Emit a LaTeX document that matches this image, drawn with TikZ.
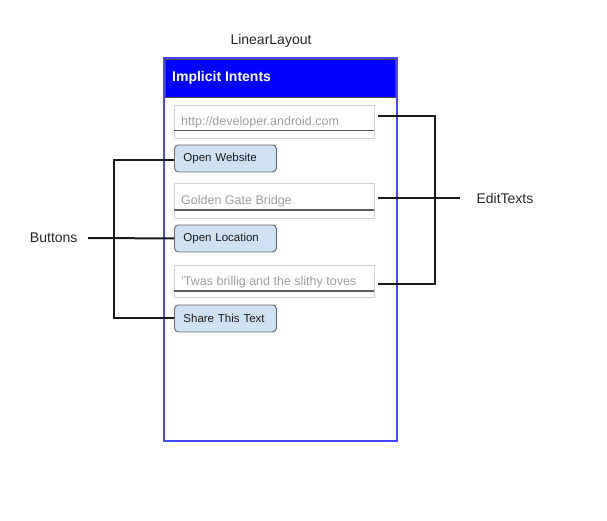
\documentclass[tikz,border=0pt]{standalone}
\usepackage{fontspec}
\setmainfont{Liberation Sans}
\begin{document}
\begin{tikzpicture}[x=1pt,y=-1pt,
  lbl/.style={font=\fontsize{14}{16}\selectfont, text=black!85},
  btn/.style={draw=black!60, line width=0.9pt, fill={rgb,255:red,207;green,226;blue,243}, rounded corners=4pt, minimum height=27pt, inner xsep=9pt, inner ysep=0pt, text width=84pt, align=left, font=\fontsize{11.5}{13}\selectfont, text=black!90},
  etbox/.style={draw=black!18, line width=0.8pt, minimum width=200pt, inner sep=0pt},
  hint/.style={font=\fontsize{12.5}{14}\selectfont, text=black!38, anchor=west, inner sep=0pt},
  conn/.style={draw=black!90, line width=2pt}]
\useasboundingbox (0,0) rectangle (607,520);
% frame
\node[draw={rgb,255:red,70;green,70;blue,255}, line width=1.5pt, minimum width=233pt, minimum height=383pt, inner sep=0pt, anchor=north west] (frame) at (163,57) {};
\node[fill={rgb,255:red,0;green,0;blue,255}, draw=black!70, line width=0.8pt, minimum width=230pt, minimum height=38pt, inner sep=0pt, anchor=north west] (bar) at (164.5,58.5) {};
\node[font=\bfseries\fontsize{14}{16}\selectfont, text=white, anchor=west, inner sep=0pt] (title) at (172,77.5) {Implicit Intents};
\node[lbl] (ll) at (271,41) {LinearLayout};
% edit texts
\node[etbox, minimum height=33pt, anchor=north west] (e1) at (174,105) {};
\draw[black!65, line width=1.3pt] (174,130.5) -- (374,130.5);
\node[hint] (h1) at (181,122) {http://developer.android.com};
\node[etbox, minimum height=35pt, anchor=north west] (e2) at (174,183) {};
\draw[black!65, line width=1.3pt] (174,210) -- (374,210);
\node[hint] (h2) at (181,201) {Golden Gate Bridge};
\node[etbox, minimum height=32pt, anchor=north west] (e3) at (174,265) {};
\draw[black!65, line width=1.3pt] (174,291) -- (374,291);
\node[hint] (h3) at (181,282) {'Twas brillig and the slithy toves};
% buttons
\node[btn, anchor=north west] (b1) at (174,144.5) {Open Website};
\node[btn, anchor=north west] (b2) at (174,224.5) {Open Location};
\node[btn, anchor=north west] (b3) at (174,304.5) {Share This Text};
% labels
\node[lbl, anchor=east] (buttons) at (81,238) {Buttons};
\node[lbl, anchor=west] (edittexts) at (473,198) {EditTexts};
% connectors
\coordinate (lv1) at (114,160);
\coordinate (lv3) at (114,318);
\draw[conn] (b1.west |- lv1) -- (lv1) -- (lv3) -- (b3.west |- lv3);
\draw[conn] (88,238) coordinate (bl) -- (b2.west);
\coordinate (rv1) at (435,116);
\coordinate (rv3) at (435,284);
\draw[conn] (378,116) coordinate (r1) -- (rv1) -- (rv3) -- (378,284) coordinate (r3);
\draw[conn] (378,198) coordinate (r2) -- (460,198) coordinate (re);
\end{tikzpicture}
\end{document}
